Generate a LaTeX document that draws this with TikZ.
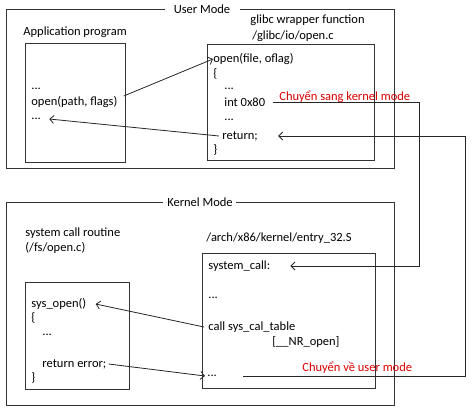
\documentclass[tikz,border=0pt]{standalone}
\usepackage{fontspec}
\setmainfont{Carlito}
\usetikzlibrary{arrows.meta}

\begin{document}
\begin{tikzpicture}
[x=1pt,y=-1pt,line width=0.8pt,%
  every node/.style={anchor=west,inner sep=0pt,font=\fontsize{12.5}{15}\selectfont},%
  modelabel/.style={anchor=center},%
  box/.style={draw=black!80},%
  call/.style={-{Straight Barb[length=4pt,width=8pt]},draw=black!85},%
  note/.style={text=red!85!black}]
\useasboundingbox (0,0) rectangle (474,410);
\coordinate (kdown) at (419,0);
\coordinate (uup) at (465,0);

% user mode
\node[modelabel] (umode) at (202,9) {User Mode};
\draw[box] (165,9) -- (6,9) -- (6,168) -- (394,168) -- (394,9) -- (240,9);
\node (app) at (23,32) {Application program};
\draw[box] (25,43) rectangle (125,162);
\node (appd1) at (31,89) {...};
\node (appopen) at (31,102) {open(path, flags)};
\node (appd2) at (31,119) {...};

\node (glibc) at (250,20) {glibc wrapper function};
\node (glibcfile) at (252,36) {/glibc/io/open.c};
\draw[box] (207,44) rectangle (374,160);
\node (gopen) at (213,59) {open(file, oflag)};
\node (gbra) at (213,74) {\{};
\node (gd1) at (224,89) {...};
\node (gint) at (224,102) {int 0x80};
\node (gd2) at (224,120) {...};
\node (gret) at (222,136) {return;};
\node (gket) at (213,150) {\}};

% kernel mode
\node[modelabel] (kmode) at (200,202) {Kernel Mode};
\draw[box] (163,202) -- (6,202) -- (6,405) -- (394,405) -- (394,202) -- (236,202);
\node (routine) at (25,233) {system call routine};
\node (routinefile) at (25,248) {(/fs/open.c)};
\draw[box] (25,282) rectangle (129,389);
\node (sysopen) at (31,304) {sys\_open()};
\node (sbra) at (31,318) {\{};
\node (sd1) at (42,335) {...};
\node (serr) at (42,364) {return error;};
\node (sket) at (31,378) {\}};

\node (entry) at (206,238) {/arch/x86/kernel/entry\_32.S};
\draw[box] (202,253) rectangle (375,388);
\node (ksys) at (208,266) {system\_call:};
\node (kd1) at (208,298) {...};
\node (kcall) at (208,327) {call sys\_cal\_table};
\node (knr) at (272,342) {[\_\_NR\_open]};
\node (kend) at (207,376) {...};

% connectors
\draw[call] ([xshift=6pt]appopen.north east) -- (gopen.west);
\draw[call] ([xshift=-3pt]gret.west) -- ([xshift=8pt]appd2.east);
\draw[call,shorten <=7pt,shorten >=20pt] (gint.east) -- (gint.east -| kdown) |- (ksys.east);
\draw[call,shorten <=26pt,shorten >=20pt] (kend.east) -- (kend.east -| uup) |- (gret.east);
\draw[call] ([xshift=-4pt]kcall.west) -- ([xshift=9pt]sysopen.east);
\draw[call] ([xshift=2pt]serr.east) -- ([xshift=-2pt]kend.west);

\node[note] (tokernel) at (279,97) {Chuyển sang kernel mode};
\node[note] (touser) at (302,368) {Chuyển về user mode};
\end{tikzpicture}
\end{document}
